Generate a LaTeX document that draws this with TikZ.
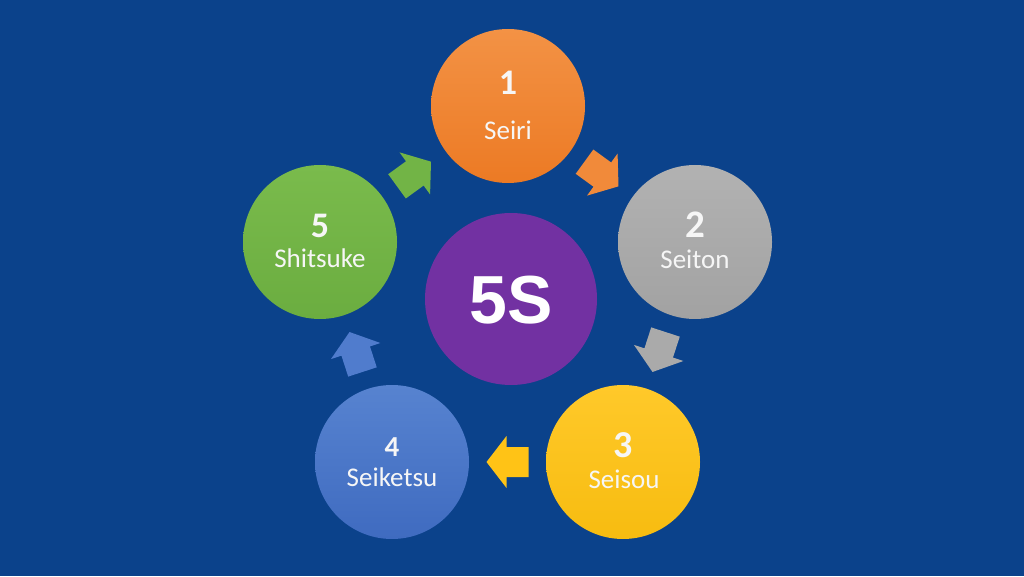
\documentclass[tikz,border=0pt]{standalone}
\usepackage{fontspec}
\setmainfont{Carlito}
\newfontfamily\arialfont{Liberation Sans}
\definecolor{bg}{HTML}{0B428B}
\definecolor{orangeA}{HTML}{F39245}
\definecolor{orangeB}{HTML}{EC7A24}
\definecolor{grayA}{HTML}{B2B2B2}
\definecolor{grayB}{HTML}{A2A2A2}
\definecolor{yellowA}{HTML}{FFC92A}
\definecolor{yellowB}{HTML}{F7BC10}
\definecolor{blueA}{HTML}{5783D0}
\definecolor{blueB}{HTML}{3F6BC0}
\definecolor{greenA}{HTML}{7ABB4C}
\definecolor{greenB}{HTML}{6BAD40}
\definecolor{purpleC}{HTML}{7231A2}
\definecolor{txt}{HTML}{F6F6F6}
\tikzset{
  circ/.style={circle, minimum size=154pt, inner sep=0pt, draw=none},
  num/.style={anchor=base, text=txt, inner sep=0pt, font=\bfseries},
  lbl/.style={anchor=base, text=txt, inner sep=0pt, font=\fontsize{27}{30}\selectfont},
  barrow/.pic={\fill[pic actions] (-21,-15) -- (1,-15) -- (1,-26) -- (21,0) -- (1,26) -- (1,15) -- (-21,15) -- cycle;}
}
\begin{document}
\begin{tikzpicture}[x=1pt,y=1pt]
\useasboundingbox (0,0) rectangle (1024,576);
\fill[bg] (0,0) rectangle (1024,576);
% circles
\node[circ, top color=orangeA, bottom color=orangeB] (c1) at (508,470) {};
\node[circ, top color=grayA, bottom color=grayB] (c2) at (695,334) {};
\node[circ, top color=yellowA, bottom color=yellowB] (c3) at (623,114) {};
\node[circ, top color=blueA, bottom color=blueB] (c4) at (392,114) {};
\node[circ, top color=greenA, bottom color=greenB] (c5) at (320,334) {};
\node[circle, minimum size=172pt, inner sep=0pt, fill=purpleC] (c0) at (511,277) {};
% texts
\node[num, font=\bfseries\fontsize{36}{40}\selectfont] (n1) at (508,481) {1};
\node[lbl] (l1) at (508,436) {Seiri};
\node[num, font=\bfseries\fontsize{39}{42}\selectfont] (n2) at (695,338) {2};
\node[lbl] (l2) at (695,307) {Seiton};
\node[num, font=\bfseries\fontsize{38}{42}\selectfont] (n3) at (623,119) {3};
\node[lbl] (l3) at (624,88) {Seisou};
\node[num, font=\bfseries\fontsize{29}{32}\selectfont] (n4) at (392,120) {4};
\node[lbl] (l4) at (392,90) {Seiketsu};
\node[num, font=\bfseries\fontsize{36}{40}\selectfont] (n5) at (320,338) {5};
\node[lbl] (l5) at (320,308) {Shitsuke};
\node[anchor=base, inner sep=0pt, text=white, font=\arialfont\bfseries\fontsize{68}{72}\selectfont] (t0) at (511,253) {5S};
% arrow positions
\path (c1.center) -- (c2.center) coordinate[pos=0.5] (m12);
\path (c2.center) -- (c3.center) coordinate[pos=0.5] (m23);
\path (c3.center) -- (c4.center) coordinate[pos=0.5] (m34);
\path (c4.center) -- (c5.center) coordinate[pos=0.5] (m45);
\path (c5.center) -- (c1.center) coordinate[pos=0.5] (m51);
\pic[fill={rgb,255:red,241;green,138;blue,58}, rotate=-36] at (m12) {barrow};
\pic[fill={rgb,255:red,170;green,170;blue,170}, rotate=-108] at (m23) {barrow};
\pic[fill={rgb,255:red,255;green,195;blue,22}, rotate=180] at (m34) {barrow};
\pic[fill={rgb,255:red,80;green,124;blue,205}, rotate=108] at (m45) {barrow};
\pic[fill={rgb,255:red,114;green,180;blue,70}, rotate=36] at (m51) {barrow};
\end{tikzpicture}
\end{document}
